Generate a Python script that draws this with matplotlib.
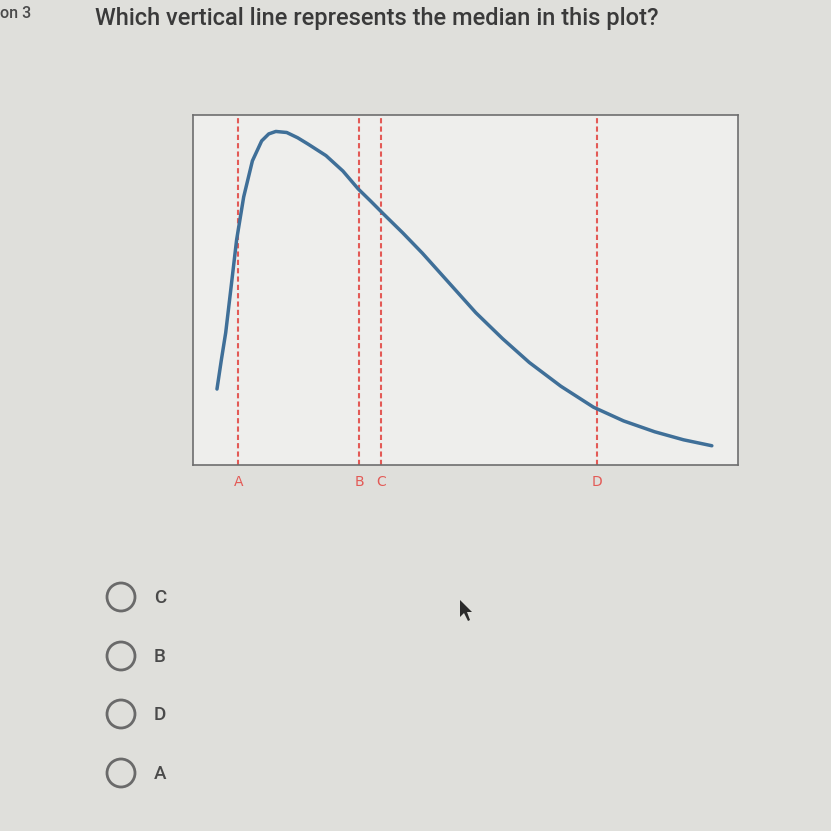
import matplotlib
matplotlib.use("Agg")
import matplotlib.pyplot as plt
from matplotlib.patches import Circle, Polygon

# ---- data (arbitrary units) ----
curve_x = [4.4, 5.2, 6.0, 7.0, 8.0, 9.3, 10.9, 12.6, 13.9, 15.2, 17.2, 19.2, 21.1,
           24.4, 27.5, 30.3, 32.6, 34.9, 38.5, 42.1, 47.0, 51.9, 56.8, 61.7, 67.5,
           73.5, 79.0, 84.7, 90.0, 95.2]
curve_y = [21.7, 30.0, 37.8, 51.0, 64.3, 76.6, 86.9, 92.6, 94.6, 95.3, 95.0, 93.5,
           91.7, 88.4, 84.0, 78.9, 75.4, 71.8, 66.3, 60.5, 52.0, 43.5, 36.1, 29.3,
           22.5, 16.5, 12.6, 9.5, 7.2, 5.5]
line_labels = ["A", "B", "C", "D"]
line_x = [8.3, 30.5, 34.5, 74.1]
question = "Which vertical line represents the median in this plot?"
options = ["C", "B", "D", "A"]

W = H = 831
fig = plt.figure(figsize=(8.31, 8.31), dpi=100)
fig.patch.set_facecolor("#dfdfdb")

# full-figure overlay for page elements (pixel coordinates)
bg = fig.add_axes([0, 0, 1, 1])
bg.set_xlim(0, W)
bg.set_ylim(H, 0)
bg.axis("off")
bg.set_zorder(0)

bg.text(0, 14, "on 3", fontsize=11.5, color="#4a4a4a", family="Roboto",
        weight="medium", va="center", ha="left")
bg.text(95, 19, question, fontsize=17, color="#3a3a3a", family="Roboto",
        weight="medium", va="center", ha="left")

opt_y = [597, 656, 714, 773]
for lab, yy in zip(options, opt_y):
    bg.add_patch(Circle((121, yy), 14, facecolor="none", edgecolor="#6a6a6a", lw=2.0))
    bg.text(154, yy + 1, lab, fontsize=13.5, color="#4a4a4a", family="Roboto",
            weight="medium", va="center", ha="left")

# mouse cursor
bg.add_patch(Polygon([(460, 600), (460, 617), (464, 613), (468, 621), (470, 620),
                      (467, 612), (472, 612)], closed=True, facecolor="#2a2a2a",
                     edgecolor="none"))

# ---- the chart ----
ax = fig.add_axes([193 / W, (H - 465) / H, 545 / W, 350 / H])
ax.set_zorder(1)
ax.set_facecolor("#eeeeec")
ax.plot(curve_x, curve_y, color="#3f6f98", lw=2.5, solid_capstyle="round",
        solid_joinstyle="round", zorder=3)
for x in line_x:
    ax.axvline(x, color="#e35a56", lw=1.5, dashes=(2.5, 1.5), zorder=2)
ax.set_xlim(0, 100)
ax.set_ylim(0, 100)
ax.set_xticks(line_x)
ax.set_xticklabels(line_labels)
ax.tick_params(axis="x", length=0, pad=7, labelsize=10, labelcolor="#e35a56")
ax.set_yticks([])
for s in ax.spines.values():
    s.set_color("#6e6e6e")
    s.set_linewidth(1.2)

fig.savefig("out.png", dpi=100, facecolor=fig.get_facecolor())
